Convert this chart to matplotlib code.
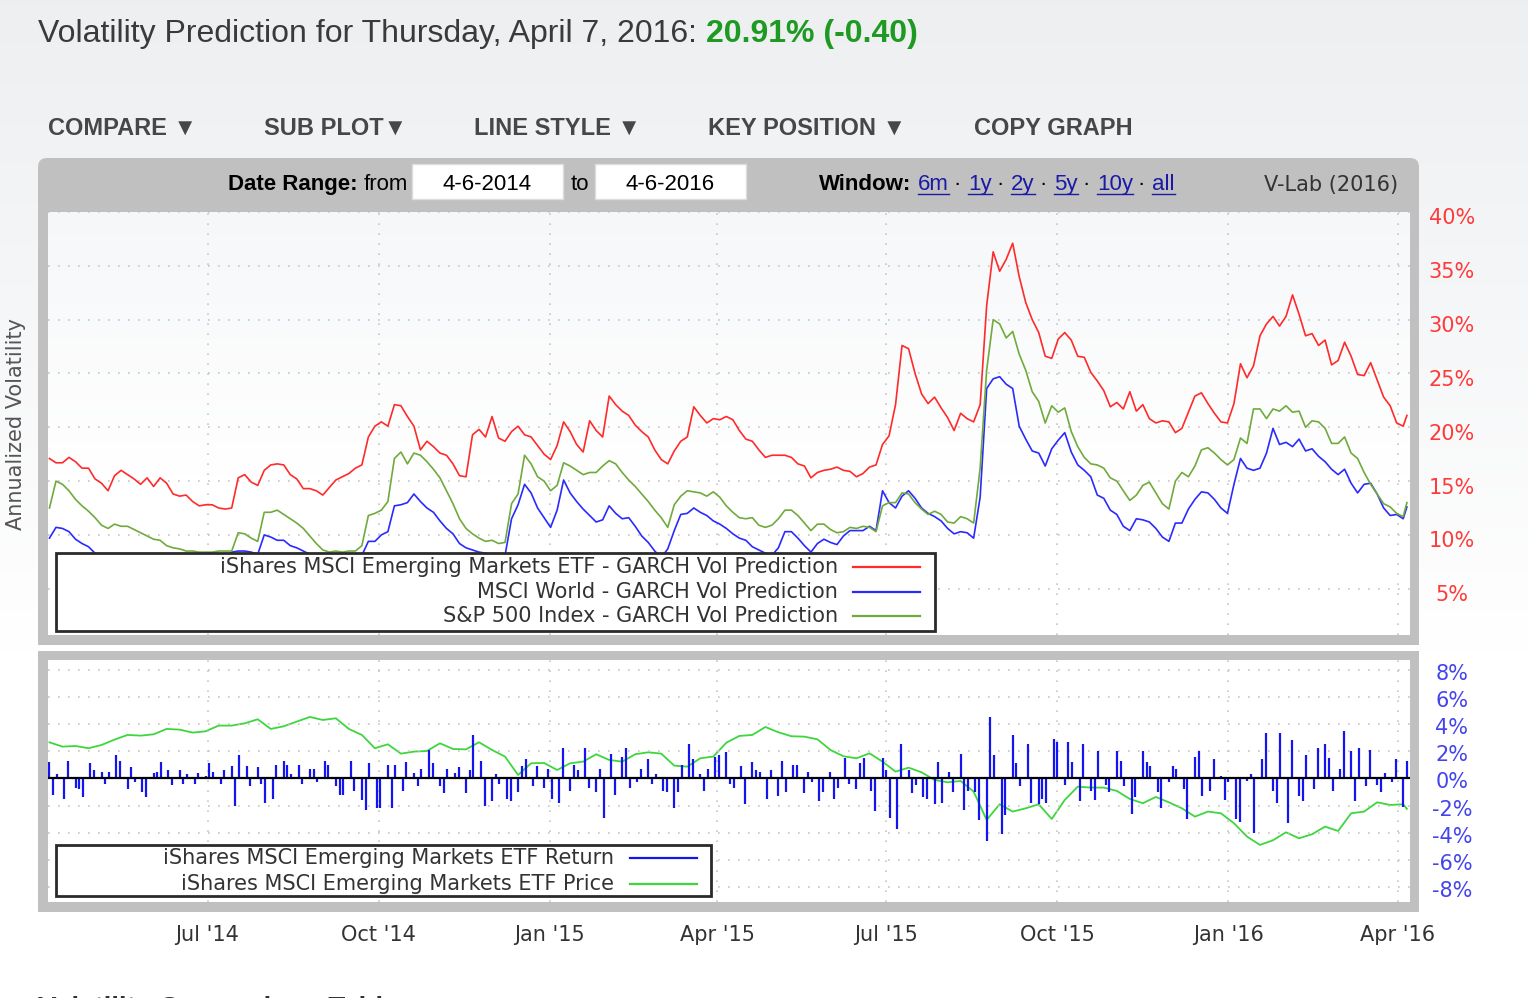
import matplotlib
matplotlib.use("Agg")
import matplotlib.pyplot as plt
import matplotlib.dates as mdates
import matplotlib.patches as mpatches
from matplotlib.lines import Line2D
from matplotlib.transforms import IdentityTransform, ScaledTranslation, blended_transform_factory
import numpy as np
import pandas as pd

W, H = 1528, 998

# volatility readings twice a week from 2014-04-07, last point is 2016-04-06
vol_dates = list(pd.date_range("2014-04-07", periods=209, freq="84h")) + [pd.Timestamp("2016-04-06")]

eem_vol = [
    17.1, 16.7, 16.7, 17.2, 16.8, 16.2, 16.2, 15.2, 14.8, 14.1,
    15.5, 16.0, 15.6, 15.2, 14.7, 15.3, 14.5, 15.3, 14.8, 13.8,
    13.6, 13.7, 13.1, 12.7, 12.8, 12.8, 12.5, 12.4, 12.5, 15.3,
    15.6, 14.9, 14.6, 16.0, 16.5, 16.6, 16.5, 15.6, 15.2, 14.3,
    14.3, 14.1, 13.7, 14.4, 15.1, 15.4, 15.7, 16.2, 16.5, 19.1,
    20.1, 20.5, 20.1, 22.1, 22.0, 21.0, 20.1, 17.9, 18.7, 18.2,
    17.6, 17.4, 16.6, 15.5, 15.4, 19.3, 19.8, 19.1, 21.0, 19.0,
    18.7, 19.6, 20.1, 19.3, 19.1, 18.3, 17.5, 17.0, 18.3, 20.5,
    19.6, 18.4, 17.7, 20.6, 19.7, 19.1, 22.9, 22.1, 21.5, 21.1,
    20.2, 19.6, 19.1, 17.9, 17.0, 16.6, 17.8, 18.7, 19.1, 21.9,
    21.1, 20.4, 20.8, 20.7, 21.0, 20.7, 19.7, 18.9, 18.7, 17.9,
    17.2, 17.4, 17.4, 17.4, 17.2, 16.6, 16.4, 15.3, 15.8, 16.0,
    16.1, 16.3, 16.0, 15.9, 15.4, 15.7, 16.3, 16.5, 18.4, 19.2,
    22.1, 27.6, 27.3, 25.0, 23.1, 22.2, 22.8, 21.8, 20.9, 19.7,
    21.3, 20.8, 20.5, 22.1, 31.3, 36.3, 34.5, 35.6, 37.1, 34.0,
    31.6, 30.0, 28.8, 26.6, 26.4, 28.2, 28.8, 28.1, 26.6, 26.5,
    25.1, 24.3, 23.4, 21.9, 22.3, 21.7, 23.3, 21.5, 22.1, 20.8,
    20.4, 20.6, 20.5, 19.5, 19.9, 21.4, 22.9, 23.2, 22.2, 21.3,
    20.5, 20.4, 22.2, 25.9, 24.6, 25.7, 28.5, 29.6, 30.3, 29.4,
    30.3, 32.3, 30.5, 28.5, 28.7, 27.6, 28.1, 25.8, 26.2, 27.9,
    26.6, 24.9, 24.8, 26.0, 24.4, 22.8, 22.0, 20.4, 20.1, 21.1,
]
world_vol = [
    9.7, 10.7, 10.6, 10.3, 9.6, 9.2, 8.9, 8.3, 7.8, 7.6,
    7.5, 7.4, 7.3, 7.1, 7.0, 6.9, 6.8, 6.7, 6.6, 6.5,
    6.5, 6.4, 6.4, 6.3, 6.3, 6.5, 7.2, 7.9, 8.4, 8.5,
    8.5, 8.4, 8.2, 10.0, 9.8, 9.5, 9.5, 9.0, 8.8, 8.5,
    8.2, 8.0, 7.8, 7.6, 7.5, 7.5, 7.6, 7.8, 8.1, 9.4,
    9.4, 10.0, 10.3, 12.7, 12.8, 13.0, 13.8, 13.1, 12.5, 12.1,
    11.3, 10.6, 10.1, 9.2, 8.8, 8.6, 8.4, 8.3, 8.1, 8.0,
    8.1, 11.5, 12.8, 14.7, 13.9, 12.5, 11.6, 10.7, 12.3, 15.1,
    13.9, 13.1, 12.4, 11.8, 11.2, 11.4, 12.7, 12.0, 11.5, 11.6,
    10.8, 9.9, 9.3, 8.5, 7.9, 8.7, 10.4, 11.9, 12.0, 12.5,
    12.1, 11.8, 11.3, 11.0, 10.6, 10.1, 9.7, 9.5, 8.9, 8.6,
    8.3, 8.1, 8.8, 10.3, 10.3, 9.7, 9.0, 8.4, 9.2, 9.6,
    9.3, 9.1, 9.9, 10.4, 10.4, 10.4, 10.8, 10.4, 14.1, 13.0,
    12.5, 13.6, 14.1, 13.4, 12.5, 12.0, 11.7, 11.3, 10.6, 10.1,
    10.3, 10.2, 9.7, 13.5, 23.6, 24.5, 24.7, 24.0, 23.6, 20.1,
    18.9, 17.8, 17.6, 16.4, 18.0, 18.8, 19.5, 17.7, 16.5, 16.0,
    15.4, 13.7, 13.4, 12.3, 11.9, 10.8, 10.4, 11.5, 11.4, 11.2,
    10.6, 9.8, 9.4, 11.1, 11.1, 12.4, 13.3, 14.0, 13.9, 13.3,
    12.5, 12.0, 14.7, 17.1, 16.2, 16.0, 16.2, 17.6, 19.9, 18.4,
    18.6, 18.2, 18.9, 17.8, 18.0, 17.3, 16.8, 16.1, 15.6, 16.1,
    14.8, 13.9, 14.7, 14.8, 13.8, 12.5, 11.8, 11.9, 11.5, 12.6,
]
spx_vol = [
    12.5, 15.0, 14.7, 14.1, 13.3, 12.7, 12.2, 11.6, 10.9, 10.6,
    11.0, 10.8, 10.8, 10.5, 10.2, 9.9, 9.6, 9.5, 9.0, 8.8,
    8.7, 8.5, 8.5, 8.4, 8.4, 8.4, 8.5, 8.5, 8.5, 10.2,
    10.1, 9.7, 9.4, 12.1, 12.1, 12.3, 11.9, 11.5, 11.1, 10.6,
    9.9, 9.2, 8.6, 8.4, 8.5, 8.4, 8.5, 8.5, 9.0, 11.8,
    12.0, 12.3, 13.1, 17.1, 17.7, 16.6, 17.6, 17.4, 16.8, 16.1,
    15.3, 14.1, 12.9, 11.5, 10.6, 10.1, 9.7, 9.4, 9.5, 9.2,
    9.3, 12.9, 13.8, 17.4, 16.6, 15.4, 15.0, 14.1, 14.6, 16.7,
    16.4, 16.0, 15.6, 15.8, 15.8, 16.4, 16.9, 16.6, 15.8, 15.1,
    14.5, 13.8, 13.1, 12.3, 11.6, 10.7, 12.8, 13.6, 14.1, 14.0,
    13.9, 13.6, 14.0, 13.5, 12.7, 12.1, 11.6, 11.5, 11.6, 10.9,
    10.7, 10.9, 11.5, 12.3, 12.3, 11.8, 11.1, 10.4, 11.0, 11.0,
    10.5, 10.2, 10.3, 10.7, 10.6, 10.8, 10.7, 10.3, 12.7, 13.0,
    13.0, 13.9, 13.8, 13.0, 12.4, 11.9, 12.2, 11.9, 11.2, 11.1,
    11.7, 11.5, 11.1, 16.2, 25.3, 30.0, 29.6, 28.3, 28.9, 26.8,
    25.3, 23.3, 22.4, 20.4, 22.0, 21.4, 21.8, 19.6, 18.2, 17.2,
    16.6, 16.5, 16.2, 15.3, 15.0, 14.1, 13.2, 13.7, 14.6, 14.9,
    13.9, 12.9, 12.4, 15.0, 15.8, 15.4, 16.4, 17.9, 18.1, 17.6,
    17.0, 16.5, 17.0, 19.0, 18.5, 21.7, 21.7, 20.8, 21.7, 21.5,
    22.0, 21.4, 21.5, 20.0, 20.6, 20.5, 19.9, 18.5, 18.5, 19.1,
    17.6, 17.1, 15.8, 14.7, 13.8, 12.9, 12.6, 12.0, 11.7, 13.0,
]

# ETF price, weekly (Mondays from 2014-04-07), last point 2016-04-06
price_dates = list(pd.date_range("2014-04-07", "2016-04-04", freq="7D")) + [pd.Timestamp("2016-04-06")]
eem_price = [
    41.90, 41.35, 41.43, 41.14, 41.56, 42.25, 42.85, 42.76, 42.93, 43.62,
    43.53, 43.15, 43.32, 44.05, 44.05, 44.34, 44.86, 43.62, 43.96, 44.56,
    45.16, 44.77, 44.99, 43.62, 42.85, 41.14, 41.65, 40.45, 40.71, 40.79,
    41.78, 41.05, 41.00, 41.91, 40.92, 40.07, 37.71, 39.21, 39.25, 38.35,
    39.21, 39.42, 40.37, 39.64, 39.42, 40.37, 40.62, 40.45, 38.91, 38.78,
    39.85, 40.07, 41.85, 42.72, 42.85, 43.87, 43.19, 42.68, 42.63, 42.29,
    40.92, 40.11, 39.85, 40.49, 39.42, 38.14, 38.65, 38.05, 37.07, 36.77,
    36.94, 35.57, 31.94, 33.95, 33.01, 33.43, 33.95, 32.06, 34.50, 36.21,
    36.09, 36.09, 35.66, 34.63, 34.08, 34.89, 34.20, 33.43, 32.36, 33.01,
    32.79, 31.51, 29.80, 28.73, 29.33, 30.35, 29.58, 30.10, 31.08, 30.52,
    32.79, 33.01, 34.20, 33.86, 33.95, 33.35,
]

# daily returns, every second business day
ret_dates = pd.bdate_range("2014-04-07", "2016-04-06")[::2]
eem_return = [
    1.2, -1.2, 0.3, -1.5, 1.3, -0.7, -0.8, -1.4, 1.1, 0.6,
    0.5, -0.4, 0.5, 1.7, 1.3, -0.8, 0.8, -0.3, -1.0, -1.4,
    0.4, 0.5, 1.2, 0.6, -0.5, 0.6, -0.4, 0.3, -0.4, 0.4,
    0.2, 1.1, 0.5, -0.4, 0.6, 0.9, -2.0, 1.7, 0.9, -0.6,
    0.8, -0.4, -1.8, -1.5, 1.0, 1.3, 1.0, 0.3, 1.0, -0.4,
    0.7, 0.7, -0.3, 1.3, 1.0, -0.6, -1.2, -1.2, 1.3, -0.9,
    -1.6, -2.3, 1.1, -2.2, -2.2, 1.0,
    -2.2, 1.0, -0.9, 1.2, 0.4, -0.6, 0.7, 2.1, 1.1, -0.6,
    -1.1, 0.7, 0.4, 0.8, -1.1, 0.6, 3.2, 1.3, -2.0, -1.7,
    0.3, -0.4, -1.5, -1.7, -1.0, 0.9, 1.4, -0.6, 0.9, -0.7,
    0.7, -1.5, -1.8, 2.2, -0.9, 1.0, 0.6, 2.2, -0.7, -1.0,
    0.7, -2.9, 1.8, -1.2, 1.6, 2.2, -0.7, -0.3, 0.7, 1.4,
    -0.4, 0.3, -0.9, -1.0, -2.2, -1.0, 1.0, 2.5, 1.4, 0.3,
    -0.9, 0.7, 1.6, 1.7, 1.9,
    -0.4, -0.7, 0.9, -1.9, 1.2, 0.6, 0.5, -1.5, 0.6, -1.3,
    1.3, -1.0, 1.0, 1.0, -1.1, 0.5, -0.3, -1.7, -1.0, 0.5,
    -1.5, -0.7, 1.5, -0.4, -0.8, 1.1, 1.5, -0.9, -2.4, 1.5,
    0.6, -2.9, -3.7, 2.5, 0.6, -1.1, -0.5, -1.4, -1.5, -1.9,
    1.2, -1.8, 0.5, -1.0, 1.8, -2.3, -0.9, -1.0, -3.1, -4.6,
    4.5, 1.7, -4.1, -2.7, 3.2, 1.1, -0.6, 2.5, -1.8, -1.9,
    -1.5, -1.8, 2.9, 2.7, -0.5, 2.7,
    1.2, -1.7, 2.5, -0.9, -1.6, 2.0, -0.5, -1.0, 2.0, 1.3,
    -0.6, -2.6, -1.4, 2.0, 1.2, 0.9, -1.0, -2.2, -0.3, 0.9,
    0.7, -0.8, -3.0, 1.6, 2.0, -1.3, -0.9, 1.4, 0.2, -1.6,
    -0.3, -3.0, -3.2, -0.2, 0.3, -4.0, 1.4, 3.3, -0.9, -1.8,
    3.3, -3.3, 2.8, -1.3, -1.7, 1.7, -0.8, 2.2, 2.5, 1.5,
    -0.9, 0.7, 3.5, 2.0, -1.7, 2.2, -0.6, 2.1, -0.5, -1.0,
    0.4, -0.3, 1.4, -2.1, 1.3,
]

vol_labels = [
    "iShares MSCI Emerging Markets ETF - GARCH Vol Prediction",
    "MSCI World - GARCH Vol Prediction",
    "S&P 500 Index - GARCH Vol Prediction",
]
sub_labels = [
    "iShares MSCI Emerging Markets ETF Return",
    "iShares MSCI Emerging Markets ETF Price",
]
vol_ticks = [5, 10, 15, 20, 25, 30, 35, 40]
ret_ticks = [-8, -6, -4, -2, 0, 2, 4, 6, 8]
menu_items = ["COMPARE \u25BC", "SUB PLOT\u25BC", "LINE STYLE \u25BC", "KEY POSITION \u25BC", "COPY GRAPH"]
window_links = ["6m", "1y", "2y", "5y", "10y", "all"]

RED, BLUE, OLIVE = "#ff2a2a", "#2a2aff", "#70aa3c"
LIME, BAR_BLUE = "#3ed63e", "#1414ee"
SANS = ["Liberation Sans", "DejaVu Sans"]
CHART = ["DejaVu Sans"]

fig = plt.figure(figsize=(W / 100, H / 100), dpi=100)
PIX = IdentityTransform()


def ftext(x, y, s, **kw):
    return fig.text(x, H - y, s, transform=PIX, **kw)


# page background, light grey fading to white
bg = fig.add_axes([0, 0, 1, 1], zorder=-3)
t = np.clip(np.arange(H) / 650.0, 0, 1)[:, None, None]
top = np.array([0.929, 0.937, 0.945])
bg.imshow(top + (1 - top) * t * np.ones((1, 1, 3)), extent=(0, 1, 0, 1), aspect="auto")
bg.axis("off")

# grey frames around the two plots
fig.add_artist(mpatches.FancyBboxPatch((38, H - 645), 1381, 487, boxstyle="round,pad=0,rounding_size=9",
                                       transform=PIX, fc="#c0c0c0", ec="none", zorder=-2))
fig.add_artist(mpatches.Rectangle((38, H - 645), 1381, 30, transform=PIX, fc="#c0c0c0", ec="none", zorder=-2))
fig.add_artist(mpatches.Rectangle((38, H - 912), 1381, 261, transform=PIX, fc="#c0c0c0", ec="none", zorder=-2))

# title and menu
renderer = fig.canvas.get_renderer()
t1 = ftext(38, 42, "Volatility Prediction for Thursday, April 7, 2016:", fontsize=23, color="#3a3a3a",
           family=SANS, va="baseline")
bb = t1.get_window_extent(renderer)
fig.text(bb.x1 + 9, H - 42, "20.91% (-0.40)", transform=PIX, fontsize=23, color="#1e9a22",
         fontweight="bold", family=SANS, va="baseline")
for x, s in zip([48, 264, 474, 708, 974], menu_items):
    ftext(x, 135, s, fontsize=17, fontweight="bold", color="#474747", family=SANS, va="baseline")

# header row inside the frame
t2 = ftext(228, 190, "Date Range:", fontsize=16, fontweight="bold", color="black", family=SANS, va="baseline")
bb = t2.get_window_extent(renderer)
fig.text(bb.x1 + 6, H - 190, "from", transform=PIX, fontsize=16, color="black", family=SANS, va="baseline")
for x0, s in [(412, "4-6-2014"), (595, "4-6-2016")]:
    fig.add_artist(mpatches.Rectangle((x0, H - 199), 151, 35, transform=PIX, fc="white",
                                      ec="#dddddd", lw=1, zorder=-1))
    ftext(x0 + 75.5, 190, s, fontsize=16, color="black", family=SANS, va="baseline", ha="center")
ftext(571, 190, "to", fontsize=16, color="black", family=SANS, va="baseline")
ftext(819, 190, "Window:", fontsize=16, fontweight="bold", color="black", family=SANS, va="baseline")
for x, s in zip([918, 968, 1011, 1054, 1097, 1152], window_links):
    lt = ftext(x, 190, s, fontsize=16, color="#1a1aa6", family=SANS, va="baseline")
    lb = lt.get_window_extent(renderer)
    fig.add_artist(Line2D([lb.x0, lb.x1], [H - 193.5, H - 193.5], transform=PIX, color="#1a1aa6", lw=1))
for x in [957, 1000, 1043, 1086, 1141]:
    ftext(x, 190, "\u00b7", fontsize=16, color="black", family=SANS, va="baseline", ha="center")
ftext(1264, 191, "V-Lab (2016)", fontsize=15, color="#333333", family=CHART, va="baseline")

ftext(16, 424, "Annualized Volatility", rotation=90, ha="center", va="center", fontsize=15,
      color="#555555", family=CHART)

# plot areas
r1 = [48 / W, 1 - 635 / H, 1362 / W, 423 / H]
r2 = [48 / W, 1 - 901.7 / H, 1362 / W, 241.7 / H]
bg1 = fig.add_axes(r1, zorder=-1)
g = np.linspace(0, 1, 200)[:, None, None]
pt = np.array([0.965, 0.970, 0.976])
bg1.imshow(pt + (1 - pt) * np.clip(g * 1.6, 0, 1) * np.ones((1, 1, 3)), extent=(0, 1, 0, 1), aspect="auto")
bg1.axis("off")

ax1 = fig.add_axes(r1)
ax2 = fig.add_axes(r2, sharex=ax1)
ax2p = ax2.twinx()
ax2p.set_zorder(-0.5)
ax2p.patch.set_visible(True)
ax2p.set_facecolor("white")
ax2.patch.set_visible(False)
ax1.set_facecolor("none")

ax1.plot(vol_dates, eem_vol, color=RED, lw=1.2)
ax1.plot(vol_dates, world_vol, color=BLUE, lw=1.2)
ax1.plot(vol_dates, spx_vol, color=OLIVE, lw=1.2)

ax2p.plot(price_dates, eem_price, color=LIME, lw=1.3)
n = min(len(ret_dates), len(eem_return))
ax2.vlines(ret_dates[:n], 0, eem_return[:n], color=BAR_BLUE, lw=1.6)
ax2.axhline(0, color="black", lw=1.6)

ax1.set_ylim(0.7, 39.7)
ax2.set_ylim(-9.07, 8.7)
ax2p.set_ylim(21.44, 52.47)
ax1.set_xlim(pd.Timestamp("2014-04-06 05:00"), pd.Timestamp("2016-04-07 16:00"))

for ax in (ax1, ax2, ax2p):
    for sp in ax.spines.values():
        sp.set_visible(False)
ax1.set_yticks(vol_ticks)
ax2.set_yticks(ret_ticks)
ax2p.set_yticks([])
ax1.xaxis.set_major_locator(mdates.MonthLocator(bymonth=[1, 4, 7, 10]))
ax2.xaxis.set_major_formatter(mdates.DateFormatter("%b '%y"))
ax1.tick_params(axis="both", length=0, labelbottom=False, labelleft=False)
ax2.tick_params(axis="y", length=0, labelleft=False)
ax2.tick_params(axis="x", length=0, labelsize=15, labelcolor="#333333", pad=16.5)
for ax in (ax1, ax2):
    ax.grid(True, color="#c6c6c6", linestyle=(0, (1, 5)), linewidth=1.2)

# percent labels on the right
tr1 = blended_transform_factory(PIX, ax1.transData) + ScaledTranslation(0, -6.5 / 100, fig.dpi_scale_trans)
for v in vol_ticks:
    ax1.text(1452, v, f"{v}%", transform=tr1, ha="center", va="center", fontsize=15,
             color="#ff3a3a", clip_on=False)
tr2 = blended_transform_factory(PIX, ax2.transData) + ScaledTranslation(0, -4 / 100, fig.dpi_scale_trans)
for v in ret_ticks:
    ax2.text(1452, v, f"{v}%", transform=tr2, ha="center", va="center", fontsize=15,
             color="#4444ee", clip_on=False)

# legends (text right-aligned, line sample after it)
fig.add_artist(mpatches.Rectangle((56, H - 631), 879, 78, transform=PIX, fc="white", ec="#2a2a2a",
                                  lw=2, zorder=2))
for y, s, c in zip([567, 592, 616], vol_labels, [RED, BLUE, OLIVE]):
    ftext(838, y, s, ha="right", va="center", fontsize=15, color="#333333", family=CHART, zorder=3)
    fig.add_artist(Line2D([853, 920], [H - y, H - y], transform=PIX, color=c, lw=1.6, zorder=3))

fig.add_artist(mpatches.Rectangle((56, H - 896), 655, 51, transform=PIX, fc="white", ec="#2a2a2a",
                                  lw=2, zorder=2))
for y, s, c in zip([858, 884], sub_labels, [BAR_BLUE, LIME]):
    ftext(614, y, s, ha="right", va="center", fontsize=15, color="#333333", family=CHART, zorder=3)
    fig.add_artist(Line2D([630, 697], [H - y, H - y], transform=PIX, color=c, lw=1.6, zorder=3))

# heading of the next section, cut by the page edge as in the screenshot
ftext(38, 1016, "Volatility Comparison Table", fontsize=20, fontweight="bold", color="#333333",
      family=SANS, va="baseline")

fig.savefig("out.png", dpi=100)
